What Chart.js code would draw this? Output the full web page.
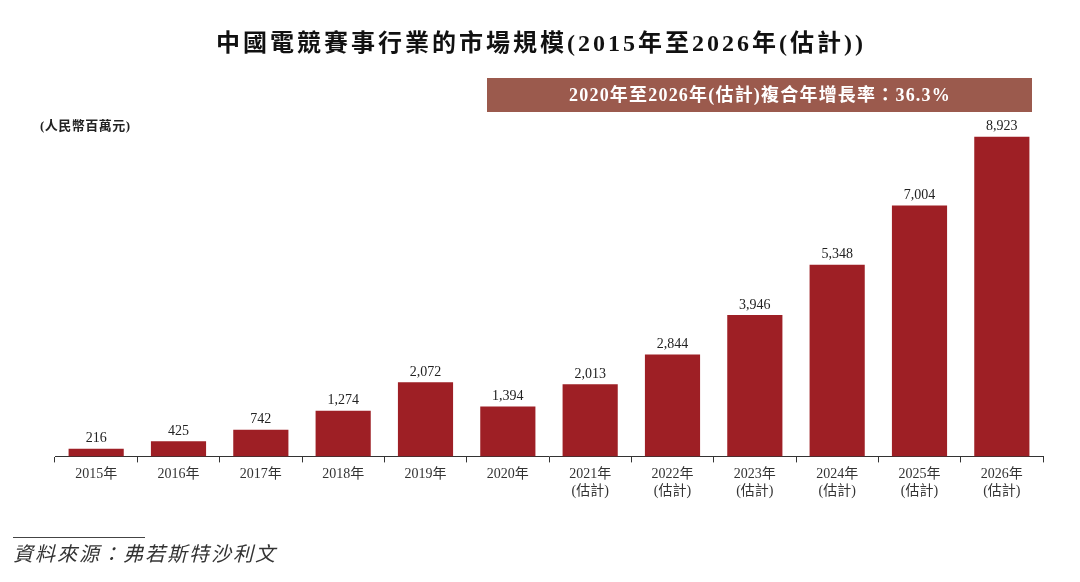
<!DOCTYPE html>
<html>
<head>
<meta charset="utf-8">
<script src="https://cdn.jsdelivr.net/npm/chart.js@4/dist/chart.umd.min.js"></script>
<style>
  body { margin: 0; background: #fff; }
  #wrap { position: relative; width: 1080px; height: 582px; }
  canvas { position: absolute; left: 0; top: 0; }
</style>
</head>
<body>
<div id="wrap"><canvas id="c" width="1080" height="582"></canvas></div>
<script>
const years = ["2015年", "2016年", "2017年", "2018年", "2019年", "2020年",
  "2021年", "2022年", "2023年", "2024年", "2025年", "2026年"];
const estimated = [false, false, false, false, false, false, true, true, true, true, true, true];
const marketSize = [216, 425, 742, 1274, 2072, 1394, 2013, 2844, 3946, 5348, 7004, 8923];

const titleText = "中國電競賽事行業的市場規模(2015年至2026年(估計))";
const cagrText = "2020年至2026年(估計)複合年增長率：36.3%";
const unitText = "(人民幣百萬元)";
const sourceText = "資料來源：弗若斯特沙利文";

const SERIF = '"Liberation Serif", "DejaVu Serif", "Noto Sans CJK TC", serif';

const labels = years.map((y, i) => estimated[i] ? [y, "(估計)"] : y);

// value labels + decorations drawn on top
const extras = {
  id: "extras",
  afterDatasetsDraw(chart) {
    const ctx = chart.ctx;
    const meta = chart.getDatasetMeta(0);
    ctx.save();
    ctx.fillStyle = "#222";
    ctx.font = "14px " + SERIF;
    ctx.textAlign = "center";
    ctx.textBaseline = "bottom";
    meta.data.forEach((bar, i) => {
      ctx.fillText(marketSize[i].toLocaleString("en-US"), bar.x, bar.y - 3);
    });
    ctx.restore();
  },
  afterDraw(chart) {
    const ctx = chart.ctx;
    ctx.save();
    // title
    ctx.fillStyle = "#111";
    ctx.font = "bold 24px " + SERIF;
    ctx.letterSpacing = "3px";
    ctx.textAlign = "center";
    ctx.textBaseline = "middle";
    ctx.fillText(titleText, 541, 45);
    // CAGR banner
    ctx.fillStyle = "#9b5a4d";
    ctx.fillRect(487, 78, 545, 34);
    ctx.fillStyle = "#fff";
    ctx.font = "bold 18px " + SERIF;
    ctx.letterSpacing = "1.2px";
    ctx.fillText(cagrText, 760, 96);
    // unit
    ctx.fillStyle = "#222";
    ctx.font = "bold 13px " + SERIF;
    ctx.letterSpacing = "0.5px";
    ctx.textAlign = "left";
    ctx.fillText(unitText, 40, 127);
    // source
    ctx.strokeStyle = "#444";
    ctx.lineWidth = 1;
    ctx.beginPath();
    ctx.moveTo(13, 537.5);
    ctx.lineTo(145, 537.5);
    ctx.stroke();
    ctx.fillStyle = "#333";
    ctx.font = "italic 20px " + SERIF;
    ctx.letterSpacing = "2px";
    ctx.fillText(sourceText, 13, 556);
    ctx.restore();
  }
};

new Chart(document.getElementById("c"), {
  type: "bar",
  data: {
    labels,
    datasets: [{
      data: marketSize,
      backgroundColor: "#9e1f25",
      borderWidth: 0,
      barPercentage: 0.67,
      categoryPercentage: 1.0
    }]
  },
  options: {
    responsive: false,
    animation: false,
    layout: { padding: { left: 55, right: 37, top: 116, bottom: 78 } },
    plugins: { legend: { display: false }, tooltip: { enabled: false } },
    scales: {
      x: {
        offset: true,
        grid: {
          offset: true,
          drawOnChartArea: false,
          drawTicks: true,
          tickLength: 6,
          color: "#333"
        },
        border: { display: true, color: "#333", width: 1 },
        ticks: {
          color: "#333",
          font: { family: SERIF, size: 14 },
          padding: 4,
          maxRotation: 0
        }
      },
      y: {
        display: false,
        min: 0,
        max: 9500
      }
    }
  },
  plugins: [extras]
});
</script>
</body>
</html>
